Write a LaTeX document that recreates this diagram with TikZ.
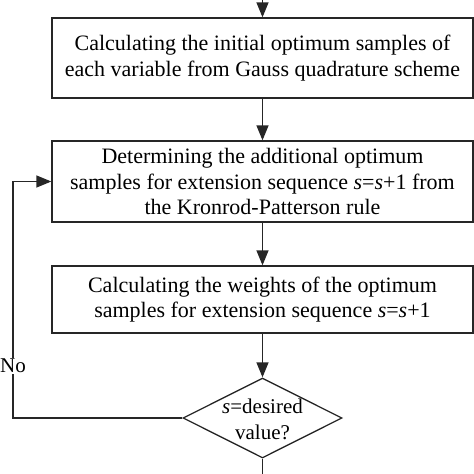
\documentclass[tikz,border=0pt]{standalone}
\usepackage{fontspec}
\setmainfont{Liberation Serif}
\usetikzlibrary{arrows.meta,shapes.geometric}

\tikzset{every picture/.style={line width=1.3pt}}
\tikzset{
  procbox/.style={draw=black!85, rectangle, minimum width=421pt, inner sep=0pt, align=center, font=\fontsize{22}{25.5}\selectfont},
  decbox/.style={draw=black!85, diamond, minimum width=159pt, minimum height=80pt, inner sep=0pt, aspect=2},
  flowline/.style={draw=black!85},
  flowarrow/.style={draw=black!85, -{Triangle[length=15pt,width=12pt]}},
}

\begin{document}
\begin{tikzpicture}[x=1pt,y=1pt,yscale=-1,xscale=1]
\useasboundingbox (0,0) rectangle (474,474);

% Text Node
\node [procbox, minimum height=80pt] (initsamp) at (262.5,58) {Calculating the initial optimum samples of\\each variable from Gauss quadrature scheme};
% Text Node
\node [procbox, minimum height=81pt] (addsamp) at (262.5,181.5) {Determining the additional optimum\\samples for extension sequence \textit{s}=\textit{s}+1 from\\the Kronrod-Patterson rule};
% Text Node
\node [procbox, minimum height=67pt] (weights) at (262.5,299.5) {Calculating the weights of the optimum\\samples for extension sequence \textit{s}=\textit{s}+1};
% Diamond
\node [decbox] (check) at (262.5,418) {};
\node [align=center, font=\fontsize{21}{26}\selectfont] (checktxt) at (262.5,419) {\textit{s}=desired\\value?};

\coordinate (start) at (262.5,0);
\coordinate (finish) at (262.5,474);
\coordinate (loopx) at (13,418);

%Straight Lines
\draw [flowarrow] (start) -- (initsamp);
\draw [flowarrow] (initsamp) -- (addsamp);
\draw [flowarrow] (addsamp) -- (weights);
\draw [flowarrow] (weights) -- (check);
\draw [flowline] (check) -- (finish);
%Feedback Line
\draw [flowarrow] (check.west) -- (loopx) |- (addsamp.west);
% Text Node
\node [fill=white, inner sep=1pt, font=\fontsize{21}{25}\selectfont] (nolabel) at (13,366) {No};

\end{tikzpicture}
\end{document}
